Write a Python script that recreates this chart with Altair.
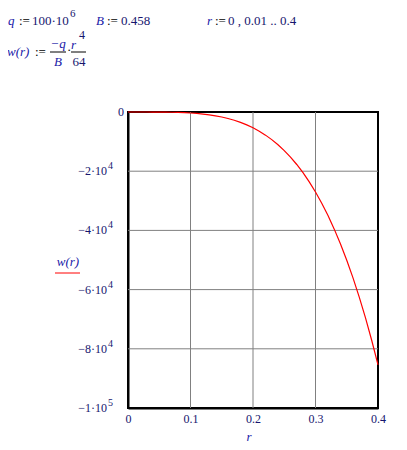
import pandas as pd
import altair as alt

# r := 0, 0.01 .. 0.4 and the plotted w(r)
r_vals = [0.00, 0.01, 0.02, 0.03, 0.04, 0.05, 0.06, 0.07, 0.08, 0.09,
          0.10, 0.11, 0.12, 0.13, 0.14, 0.15, 0.16, 0.17, 0.18, 0.19,
          0.20, 0.21, 0.22, 0.23, 0.24, 0.25, 0.26, 0.27, 0.28, 0.29,
          0.30, 0.31, 0.32, 0.33, 0.34, 0.35, 0.36, 0.37, 0.38, 0.39,
          0.40]
w_vals = [0, 0, -1, -3, -9, -21, -43, -80, -137, -219,
          -334, -489, -692, -953, -1282, -1689, -2187, -2787, -3503, -4348,
          -5338, -6489, -7816, -9337, -11070, -13033, -15247, -17732, -20508, -23598,
          -27026, -30813, -34986, -39569, -44587, -50069, -56041, -62532, -69571, -77189,
          -85415]

y_ticks = [0, -20000, -40000, -60000, -80000, -100000]
y_mant = ["0", "\u22122\u00b710", "\u22124\u00b710", "\u22126\u00b710", "\u22128\u00b710", "\u22121\u00b710"]
y_exp = ["", "4", "4", "4", "4", "5"]
x_ticks = [0, 0.1, 0.2, 0.3, 0.4]
x_grid = [0.1, 0.2, 0.3]
y_grid = [-20000, -40000, -60000, -80000]

SERIF = "Liberation Serif"
BLUE = "#2020a8"
NAVY = "#16166e"
OX, OY = 128, 112  # page position of the plot's top-left corner

curve = pd.DataFrame({"r": r_vals, "w": w_vals})
ticks = pd.DataFrame({"v": y_ticks, "mant": y_mant, "exp": y_exp})

xs = alt.Scale(domain=[0, 0.4], nice=False, zero=False)
ys = alt.Scale(domain=[-100000, 0], nice=False)
x_axis = alt.Axis(values=x_ticks, title=None, grid=False, ticks=False,
                  domainColor="black", domainWidth=2, labelFlush=False,
                  labelFont=SERIF, labelFontSize=12, labelColor=NAVY, labelPadding=5,
                  labelExpr="datum.value == 0 ? '0' : format(datum.value, '.1f')")
y_axis = alt.Axis(title=None, grid=False, ticks=False, labels=False,
                  domainColor="black", domainWidth=2)


def note(txt, x, y, color="black", italic=False, size=13, align="left"):
    return alt.Chart(pd.DataFrame({"t": [txt]})).mark_text(
        font=SERIF, fontSize=size, fontStyle="italic" if italic else "normal",
        color=color, align=align, baseline="alphabetic"
    ).encode(x=alt.value(x - OX), y=alt.value(y - OY), text="t:N")


def bar(x1, x2, y, color="black"):
    return alt.Chart(pd.DataFrame({"t": [0]})).mark_rule(color=color, strokeWidth=1).encode(
        x=alt.value(x1 - OX), x2=alt.value(x2 - OX), y=alt.value(y - OY))


gx = alt.Chart(pd.DataFrame({"r": x_grid})).mark_rule(color="#808080", strokeWidth=1).encode(
    x=alt.X("r:Q", scale=xs, axis=x_axis))
gy = alt.Chart(pd.DataFrame({"w": y_grid})).mark_rule(color="#808080", strokeWidth=1).encode(
    y=alt.Y("w:Q", scale=ys, axis=y_axis))

line = alt.Chart(curve).mark_line(color="red", strokeWidth=1.2).encode(
    x=alt.X("r:Q", scale=xs, axis=x_axis),
    y=alt.Y("w:Q", scale=ys, axis=y_axis),
)

lab_main = alt.Chart(ticks).transform_filter("datum.exp != ''").mark_text(
    font=SERIF, fontSize=12, color=NAVY, align="right", baseline="middle"
).encode(y=alt.Y("v:Q", scale=ys, axis=y_axis), x=alt.value(-21), text="mant:N")
lab_exp = alt.Chart(ticks).transform_filter("datum.exp != ''").mark_text(
    font=SERIF, fontSize=10, color=NAVY, align="left", baseline="middle", dy=-5
).encode(y=alt.Y("v:Q", scale=ys, axis=y_axis), x=alt.value(-20), text="exp:N")
lab_zero = alt.Chart(ticks).transform_filter("datum.exp == ''").mark_text(
    font=SERIF, fontSize=12, color=NAVY, align="right", baseline="middle"
).encode(y=alt.Y("v:Q", scale=ys, axis=y_axis), x=alt.value(-4), text="mant:N")

header = [
    note("q", 8, 25, BLUE, True), note(":=", 19, 25), note("100\u00b710", 32, 25, NAVY),
    note("6", 70, 17, NAVY, size=11),
    note("B", 96, 25, BLUE, True), note(":=", 107, 25), note("0.458", 121, 25, NAVY),
    note("r", 207, 25, BLUE, True), note(":=", 215, 25), note("0 , 0.01 .. 0.4", 228, 25, NAVY),
    note("w(r)", 7, 56, BLUE, True), note(":=", 35, 56),
    note("\u2212q", 58, 48, BLUE, True, align="center"), bar(50, 66, 52),
    note("B", 58, 66, BLUE, True, align="center"),
    note("\u00b7", 67, 54), note("r", 71, 49, BLUE, True), note("4", 79, 39, NAVY, size=12),
    bar(71, 86, 52), note("64", 79, 66, NAVY, align="center"),
    note("w(r)", 68, 266, BLUE, True, align="center"), bar(55, 80, 273, "red"),
    note("r", 249, 441, BLUE, True, align="center"),
]

chart = alt.layer(gx, gy, line, lab_main, lab_exp, lab_zero, *header).properties(
    width=250, height=296,
    autosize=alt.AutoSizeParams(type="none"),
    padding={"left": 120, "top": 104, "right": 21, "bottom": 40},
).configure_view(stroke="black", strokeWidth=2)

chart.save("out.html", embed_options={"renderer": "svg", "actions": False})
